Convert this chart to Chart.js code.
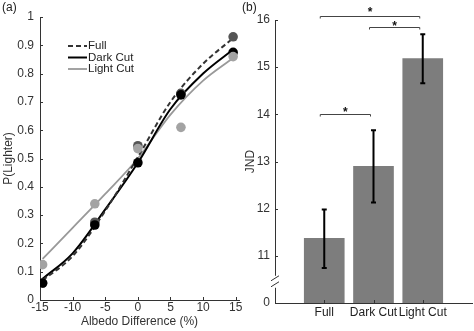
<!DOCTYPE html>
<html>
<head>
<meta charset="utf-8">
<script src="https://cdn.jsdelivr.net/npm/chart.js@4.4.1/dist/chart.umd.min.js"></script>
<style>
  html, body { margin: 0; padding: 0; background: #fff; }
  #wrap { position: relative; width: 474px; height: 331px; overflow: hidden; }
  #wrap canvas { position: absolute; top: 0; }
  .tag { position: absolute; font: 12px 'Liberation Sans', Arial, sans-serif; line-height: 14px; color: #222; }
</style>
</head>
<body>
<div id="wrap">
  <canvas id="psych" width="250" height="331" style="left:0"></canvas>
  <canvas id="jnd" width="234" height="331" style="left:240px"></canvas>
  <div class="tag" style="left:2px;top:0">(a)</div>
  <div class="tag" style="left:242px;top:0">(b)</div>
</div>
<script>
// psychometric data: proportion "lighter" per albedo difference
const stimLevels = [-14.6, -6.6, 0, 6.6, 14.6];
const pFull = [0.06, 0.275, 0.545, 0.73, 0.93];
const pDark = [0.06, 0.265, 0.485, 0.725, 0.875];
const pLight = [0.125, 0.34, 0.535, 0.61, 0.86];

// fitted curves, sampled along the x axis
const fitX = [-14.6, -10, -5, 0, 5, 10, 14.6];
const fitFull = [0.07, 0.155, 0.315, 0.505, 0.70, 0.835, 0.925];
const fitDark = [0.075, 0.165, 0.32, 0.485, 0.675, 0.80, 0.885];
const fitLight = [0.145, 0.255, 0.375, 0.50, 0.655, 0.775, 0.855];

const xTicks = [-15, -10, -5, 0, 5, 10, 15];
const pTicks = [0, 0.1, 0.2, 0.3, 0.4, 0.5, 0.6, 0.7, 0.8, 0.9, 1];

// JND per condition, with error bar limits
const conditions = ['Full', 'Dark Cut', 'Light Cut'];
const jndMean = [11.37, 12.9, 15.18];
const jndLow = [10.74, 12.13, 14.66];
const jndHigh = [11.98, 13.66, 15.70];
const jndTicks = [10, 11, 12, 13, 14, 15, 16];
const jndTickLabels = ['0', '11', '12', '13', '14', '15', '16'];
const sigPairs = [['Full', 'Light Cut'], ['Dark Cut', 'Light Cut'], ['Full', 'Dark Cut']];

const FONT = "'Liberation Sans', Arial, sans-serif";
Chart.defaults.font.family = FONT;
Chart.defaults.font.size = 12;
Chart.defaults.color = '#333';

const pts = (xs, ys) => xs.map((x, i) => ({ x, y: ys[i] }));

// small tick marks pointing into the plot, MATLAB style
const innerTicks = {
  id: 'innerTicks',
  afterDraw(chart, args, opts) {
    const { ctx, chartArea: a, scales: { x, y } } = chart;
    ctx.save();
    ctx.strokeStyle = '#333';
    ctx.lineWidth = 1;
    ctx.beginPath();
    x.ticks.forEach((t, i) => {
      if (t.label === '') return;
      const px = Math.round(x.getPixelForTick(i)) + 0.5;
      ctx.moveTo(px, a.bottom);
      ctx.lineTo(px, a.bottom - opts.length);
    });
    y.ticks.forEach((t, i) => {
      const py = Math.round(y.getPixelForTick(i)) + 0.5;
      ctx.moveTo(a.left, py);
      ctx.lineTo(a.left + opts.length, py);
    });
    ctx.stroke();
    ctx.restore();
  }
};

const insetLegend = {
  id: 'insetLegend',
  afterDraw(chart, args, opts) {
    const { ctx } = chart;
    ctx.save();
    ctx.font = opts.font;
    ctx.textBaseline = 'middle';
    ctx.fillStyle = '#222';
    chart.data.datasets.filter(d => d.showLine).forEach((d, i) => {
      const y = opts.y + i * opts.rowHeight;
      ctx.beginPath();
      ctx.strokeStyle = d.borderColor;
      ctx.lineWidth = d.borderWidth;
      ctx.setLineDash(d.borderDash || []);
      ctx.moveTo(opts.x, y);
      ctx.lineTo(opts.x + opts.lineLength, y);
      ctx.stroke();
      ctx.setLineDash([]);
      ctx.fillText(d.label, opts.x + opts.lineLength + 1, y);
    });
    ctx.restore();
  }
};

new Chart(document.getElementById('psych'), {
  type: 'scatter',
  data: {
    datasets: [
      { label: 'Light Cut', data: pts(stimLevels, pLight), backgroundColor: '#a3a3a3', borderWidth: 0, pointRadius: 4.8, order: 0 },
      { label: 'Dark Cut', data: pts(stimLevels, pDark), backgroundColor: '#000', borderWidth: 0, pointRadius: 4.8, order: 1 },
      { label: 'Full', data: pts(stimLevels, pFull), backgroundColor: '#555', borderWidth: 0, pointRadius: 4.8, order: 2 },
      { label: 'Full', data: pts(fitX, fitFull), showLine: true, borderColor: '#333', borderWidth: 2, borderDash: [5, 3],
        pointRadius: 0, cubicInterpolationMode: 'monotone', order: 3 },
      { label: 'Dark Cut', data: pts(fitX, fitDark), showLine: true, borderColor: '#000', borderWidth: 2,
        pointRadius: 0, cubicInterpolationMode: 'monotone', order: 4 },
      { label: 'Light Cut', data: pts(fitX, fitLight), showLine: true, borderColor: '#999', borderWidth: 1.8,
        pointRadius: 0, cubicInterpolationMode: 'monotone', order: 5 }
    ]
  },
  options: {
    responsive: false,
    animation: false,
    layout: { padding: { top: 17, right: 11, bottom: 0, left: 0 } },
    scales: {
      x: {
        type: 'linear', min: -15, max: 15.5,
        afterBuildTicks: s => { s.ticks = xTicks.map(v => ({ value: v })); },
        afterFit: s => { s.height = 31; },
        grid: { display: false, drawTicks: false },
        border: { color: '#333' },
        ticks: { padding: 0, maxRotation: 0, callback: v => String(v) },
        title: { display: true, text: 'Albedo Difference (%)', color: '#333', padding: { top: 0, bottom: 2 } }
      },
      y: {
        min: 0, max: 1,
        afterBuildTicks: s => { s.ticks = pTicks.map(v => ({ value: v })); },
        afterFit: s => { s.width = 40; },
        grid: { display: false, drawTicks: false },
        border: { color: '#333' },
        ticks: { padding: 6, callback: v => String(v) },
        title: { display: true, text: 'P(Lighter)', color: '#333', padding: { top: 1, bottom: 0 } }
      }
    },
    plugins: {
      legend: { display: false },
      tooltip: { enabled: false },
      innerTicks: { length: 3 },
      insetLegend: { x: 68, y: 46, rowHeight: 11.5, lineLength: 19, font: '11.5px ' + FONT }
    }
  },
  plugins: [innerTicks, insetLegend]
});

// error bars drawn from jndLow / jndHigh
const errorBars = {
  id: 'errorBars',
  afterDatasetsDraw(chart, args, opts) {
    const { ctx, scales: { y } } = chart;
    const meta = chart.getDatasetMeta(0);
    ctx.save();
    ctx.strokeStyle = '#000';
    ctx.lineWidth = 2;
    opts.low.forEach((lo, i) => {
      const bar = meta.data[i + 1];
      const x = bar.x;
      const y1 = y.getPixelForValue(lo);
      const y2 = y.getPixelForValue(opts.high[i]);
      ctx.beginPath();
      ctx.moveTo(x, y1); ctx.lineTo(x, y2);
      ctx.moveTo(x - opts.cap, y1); ctx.lineTo(x + opts.cap, y1);
      ctx.moveTo(x - opts.cap, y2); ctx.lineTo(x + opts.cap, y2);
      ctx.stroke();
    });
    ctx.restore();
  }
};

// significance brackets with stars
const sigBrackets = {
  id: 'sigBrackets',
  afterDraw(chart, args, opts) {
    const { ctx, scales: { x, y } } = chart;
    const labels = chart.data.labels;
    ctx.save();
    ctx.strokeStyle = '#444';
    ctx.fillStyle = '#111';
    ctx.lineWidth = 1;
    ctx.font = 'bold 12px ' + FONT;
    ctx.textAlign = 'center';
    ctx.textBaseline = 'alphabetic';
    opts.pairs.forEach(([a, b], i) => {
      const x1 = x.getPixelForValue(labels.indexOf(a)) - 4;
      const x2 = x.getPixelForValue(labels.indexOf(b)) - 3;
      const yy = Math.round(y.getPixelForValue(opts.levels[i])) + 0.5;
      ctx.beginPath();
      ctx.moveTo(x1, yy + 2); ctx.lineTo(x1, yy); ctx.lineTo(x2, yy); ctx.lineTo(x2, yy + 2);
      ctx.stroke();
      ctx.fillText('*', (x1 + x2) / 2, yy + opts.starLift[i]);
    });
    ctx.restore();
  }
};

// "//" break on the y axis between 0 and 11
const axisBreak = {
  id: 'axisBreak',
  afterDraw(chart, args, opts) {
    const { ctx, chartArea: a, scales: { y } } = chart;
    const yc = y.getPixelForValue(opts.at);
    ctx.save();
    ctx.fillStyle = '#fff';
    ctx.fillRect(a.left - 2, yc - 6, 4, 12);
    ctx.strokeStyle = '#333';
    ctx.lineWidth = 1;
    ctx.beginPath();
    ctx.moveTo(a.left - 4, yc - 1); ctx.lineTo(a.left + 4, yc - 6);
    ctx.moveTo(a.left - 4, yc + 5); ctx.lineTo(a.left + 4, yc);
    ctx.stroke();
    ctx.restore();
  }
};

new Chart(document.getElementById('jnd'), {
  type: 'bar',
  data: {
    labels: ['', ...conditions, ''],
    datasets: [{
      label: 'JND',
      data: [null, ...jndMean, null],
      backgroundColor: '#7d7d7d',
      borderWidth: 0,
      barThickness: 40,
      clip: 0
    }]
  },
  options: {
    responsive: false,
    animation: false,
    layout: { padding: { top: 20, right: 2, bottom: 0, left: 0 } },
    scales: {
      x: {
        offset: false,
        afterFit: s => { s.height = 28; },
        grid: { display: false, drawTicks: false, offset: false },
        border: { color: '#333' },
        ticks: { padding: 2, autoSkip: false, maxRotation: 0, color: '#222' }
      },
      y: {
        min: 10, max: 16,
        afterBuildTicks: s => { s.ticks = jndTicks.map(v => ({ value: v })); },
        afterFit: s => { s.width = 35; },
        grid: { display: false, drawTicks: false },
        border: { color: '#333' },
        ticks: { padding: 5, callback: (v, i) => jndTickLabels[i] },
        title: { display: true, text: 'JND', color: '#333', padding: { top: 3, bottom: 0 } }
      }
    },
    plugins: {
      legend: { display: false },
      tooltip: { enabled: false },
      innerTicks: { length: 3 },
      errorBars: { low: jndLow, high: jndHigh, cap: 2.5 },
      sigBrackets: { pairs: sigPairs, levels: [16.09, 15.85, 14.0], starLift: [-1, 2, 1] },
      axisBreak: { at: 10.45 }
    }
  },
  plugins: [innerTicks, errorBars, sigBrackets, axisBreak]
});
</script>
</body>
</html>
